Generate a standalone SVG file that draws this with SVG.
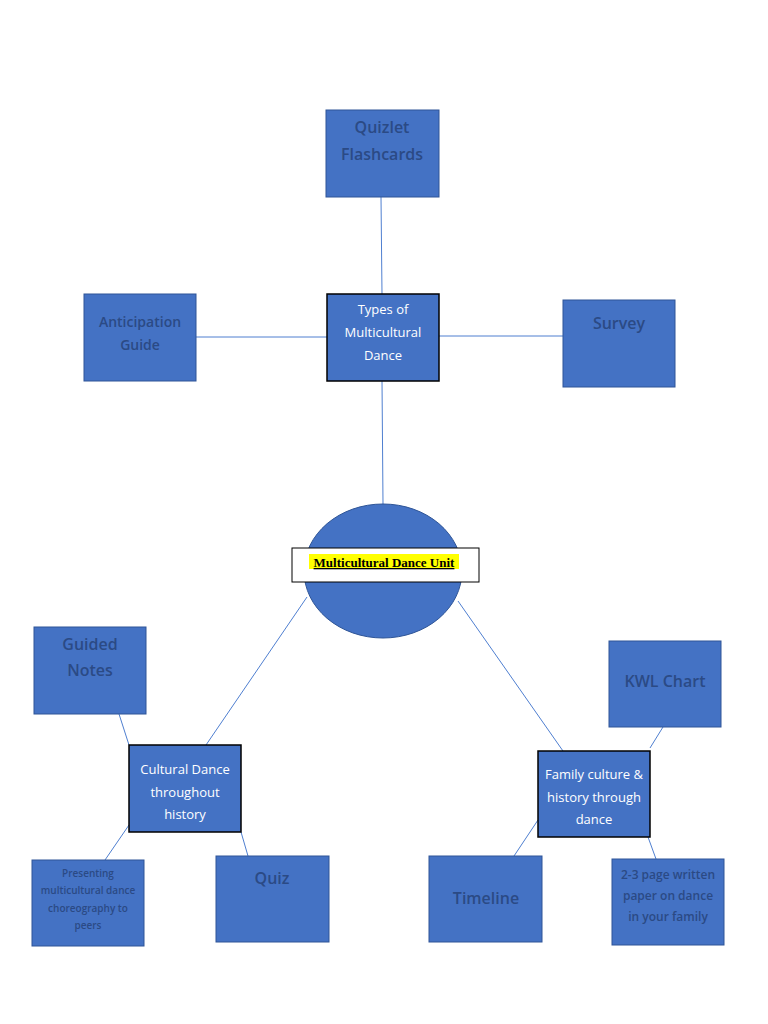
<svg xmlns="http://www.w3.org/2000/svg" width="768" height="1024" viewBox="0 0 768 1024">
<style>
.b{fill:#4472c4;stroke:#2f5597;stroke-width:1}
.c{fill:#4472c4;stroke:#000;stroke-width:1.5}
.t{font-family:"Open Sans","Liberation Sans",sans-serif;font-size:16px;fill:#2b4a85;text-anchor:middle;font-weight:600}
.w{font-family:"Open Sans","Liberation Sans",sans-serif;font-size:13px;fill:#fff;text-anchor:middle}
.s{font-size:10px}
line{stroke:#4f7fd0;stroke-width:1}
</style>
<rect width="768" height="1024" fill="#fff"/>
<g id="connectors">
<line x1="381" y1="197" x2="382" y2="294"/>
<line x1="382" y1="381" x2="383" y2="504"/>
<line x1="196" y1="337" x2="327" y2="337"/>
<line x1="439" y1="336" x2="563" y2="336"/>
<line x1="307" y1="597" x2="206" y2="745"/>
<line x1="458" y1="601" x2="563" y2="751"/>
<line x1="119" y1="714" x2="129" y2="745"/>
<line x1="105" y1="860" x2="129" y2="825"/>
<line x1="241" y1="832" x2="248" y2="856"/>
<line x1="663" y1="727" x2="650" y2="748"/>
<line x1="514" y1="856" x2="538" y2="820"/>
<line x1="648" y1="837" x2="656" y2="859"/>
</g>
<g id="quizlet"><rect class="b" x="326" y="110" width="113" height="87"/><text class="t" x="382" y="133">Quizlet</text><text class="t" x="382" y="160">Flashcards</text></g>
<g id="types"><rect class="c" x="327" y="294" width="112" height="87"/><text class="w" x="383" y="314">Types of</text><text class="w" x="383" y="337">Multicultural</text><text class="w" x="383" y="360">Dance</text></g>
<g id="anticipation"><rect class="b" x="84" y="294" width="112" height="87"/><text class="t" x="140" y="327" style="font-size:14px">Anticipation</text><text class="t" x="140" y="350" style="font-size:14px">Guide</text></g>
<g id="survey"><rect class="b" x="563" y="300" width="112" height="87"/><text class="t" x="619" y="329">Survey</text></g>
<g id="unit"><ellipse cx="383" cy="571" rx="79" ry="67" fill="#4472c4" stroke="#2f5597"/>
<rect x="292" y="548" width="187" height="34" fill="#fff" stroke="#000"/>
<rect x="309" y="554" width="150" height="15" fill="#ffff00"/>
<text x="384" y="567" text-anchor="middle" font-family="Liberation Serif,serif" font-size="13" font-weight="bold" text-decoration="underline">Multicultural Dance Unit</text></g>
<g id="guided"><rect class="b" x="34" y="627" width="112" height="87"/><text class="t" x="90" y="650">Guided</text><text class="t" x="90" y="676">Notes</text></g>
<g id="cultural"><rect class="c" x="129" y="745" width="112" height="87"/><text class="w" x="185" y="774">Cultural Dance</text><text class="w" x="185" y="797">throughout</text><text class="w" x="185" y="819">history</text></g>
<g id="presenting"><rect class="b" x="32" y="860" width="112" height="86"/><text class="t s" x="88" y="877">Presenting</text><text class="t s" x="88" y="894">multicultural dance</text><text class="t s" x="88" y="912">choreography to</text><text class="t s" x="88" y="929">peers</text></g>
<g id="quiz"><rect class="b" x="216" y="856" width="113" height="86"/><text class="t" x="272" y="884">Quiz</text></g>
<g id="kwl"><rect class="b" x="609" y="641" width="112" height="86"/><text class="t" x="665" y="687">KWL Chart</text></g>
<g id="family"><rect class="c" x="538" y="751" width="112" height="86"/><text class="w" x="594" y="779">Family culture &amp;</text><text class="w" x="594" y="802">history through</text><text class="w" x="594" y="824">dance</text></g>
<g id="timeline"><rect class="b" x="429" y="856" width="113" height="86"/><text class="t" x="486" y="904">Timeline</text></g>
<g id="paper"><rect class="b" x="612" y="859" width="112" height="86"/><text class="t" x="668" y="879" style="font-size:12px">2-3 page written</text><text class="t" x="668" y="900" style="font-size:12px">paper on dance</text><text class="t" x="668" y="921" style="font-size:12px">in your family</text></g>
</svg>
